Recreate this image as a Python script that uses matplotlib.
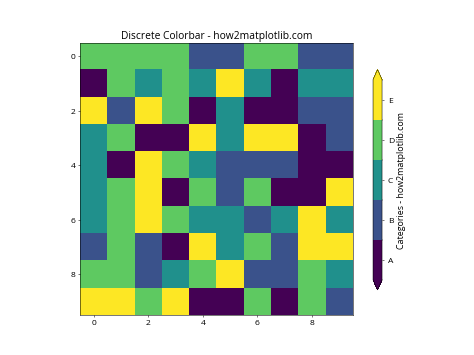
import numpy as np
import matplotlib
matplotlib.use("Agg")
import matplotlib.pyplot as plt
from matplotlib.colors import BoundaryNorm

plt.rcParams['font.family'] = ['Open Sans', 'DejaVu Sans']

categories = ['A', 'B', 'C', 'D', 'E']
grid = [
    [3, 3, 3, 3, 1, 1, 3, 3, 1, 1],
    [0, 3, 2, 3, 2, 4, 2, 0, 2, 2],
    [4, 1, 4, 3, 0, 2, 0, 0, 1, 1],
    [2, 3, 0, 0, 4, 2, 4, 4, 0, 1],
    [2, 0, 4, 3, 2, 1, 1, 1, 0, 0],
    [2, 3, 4, 0, 3, 1, 3, 0, 0, 4],
    [2, 3, 4, 3, 2, 2, 1, 2, 4, 2],
    [1, 3, 1, 0, 4, 2, 3, 1, 4, 4],
    [3, 3, 1, 2, 3, 4, 1, 1, 3, 2],
    [4, 4, 3, 4, 0, 0, 3, 0, 3, 1],
]
data = np.array(grid)

cmap = plt.get_cmap('viridis', len(categories))
bounds = np.arange(-0.5, len(categories) + 0.5, 1)
norm = BoundaryNorm(bounds, cmap.N)

fig = plt.figure(figsize=(10, 7.5), dpi=47.4)
ax = fig.add_axes([0.1667, 0.1127, 0.5803, 0.7663])
im = ax.imshow(data, cmap=cmap, norm=norm)
ax.set_title('Discrete Colorbar - how2matplotlib.com', fontsize=15.5)
ax.tick_params(labelsize=13)

cax = fig.add_axes([0.787, 0.183, 0.019, 0.62])
cbar = fig.colorbar(im, cax=cax, ticks=np.arange(len(categories)), extend='both')
cbar.set_ticklabels(categories)
cbar.ax.tick_params(labelsize=13, pad=5)
cbar.set_label('Categories - how2matplotlib.com', fontsize=13.5)

fig.savefig('out.png', dpi=47.4)
